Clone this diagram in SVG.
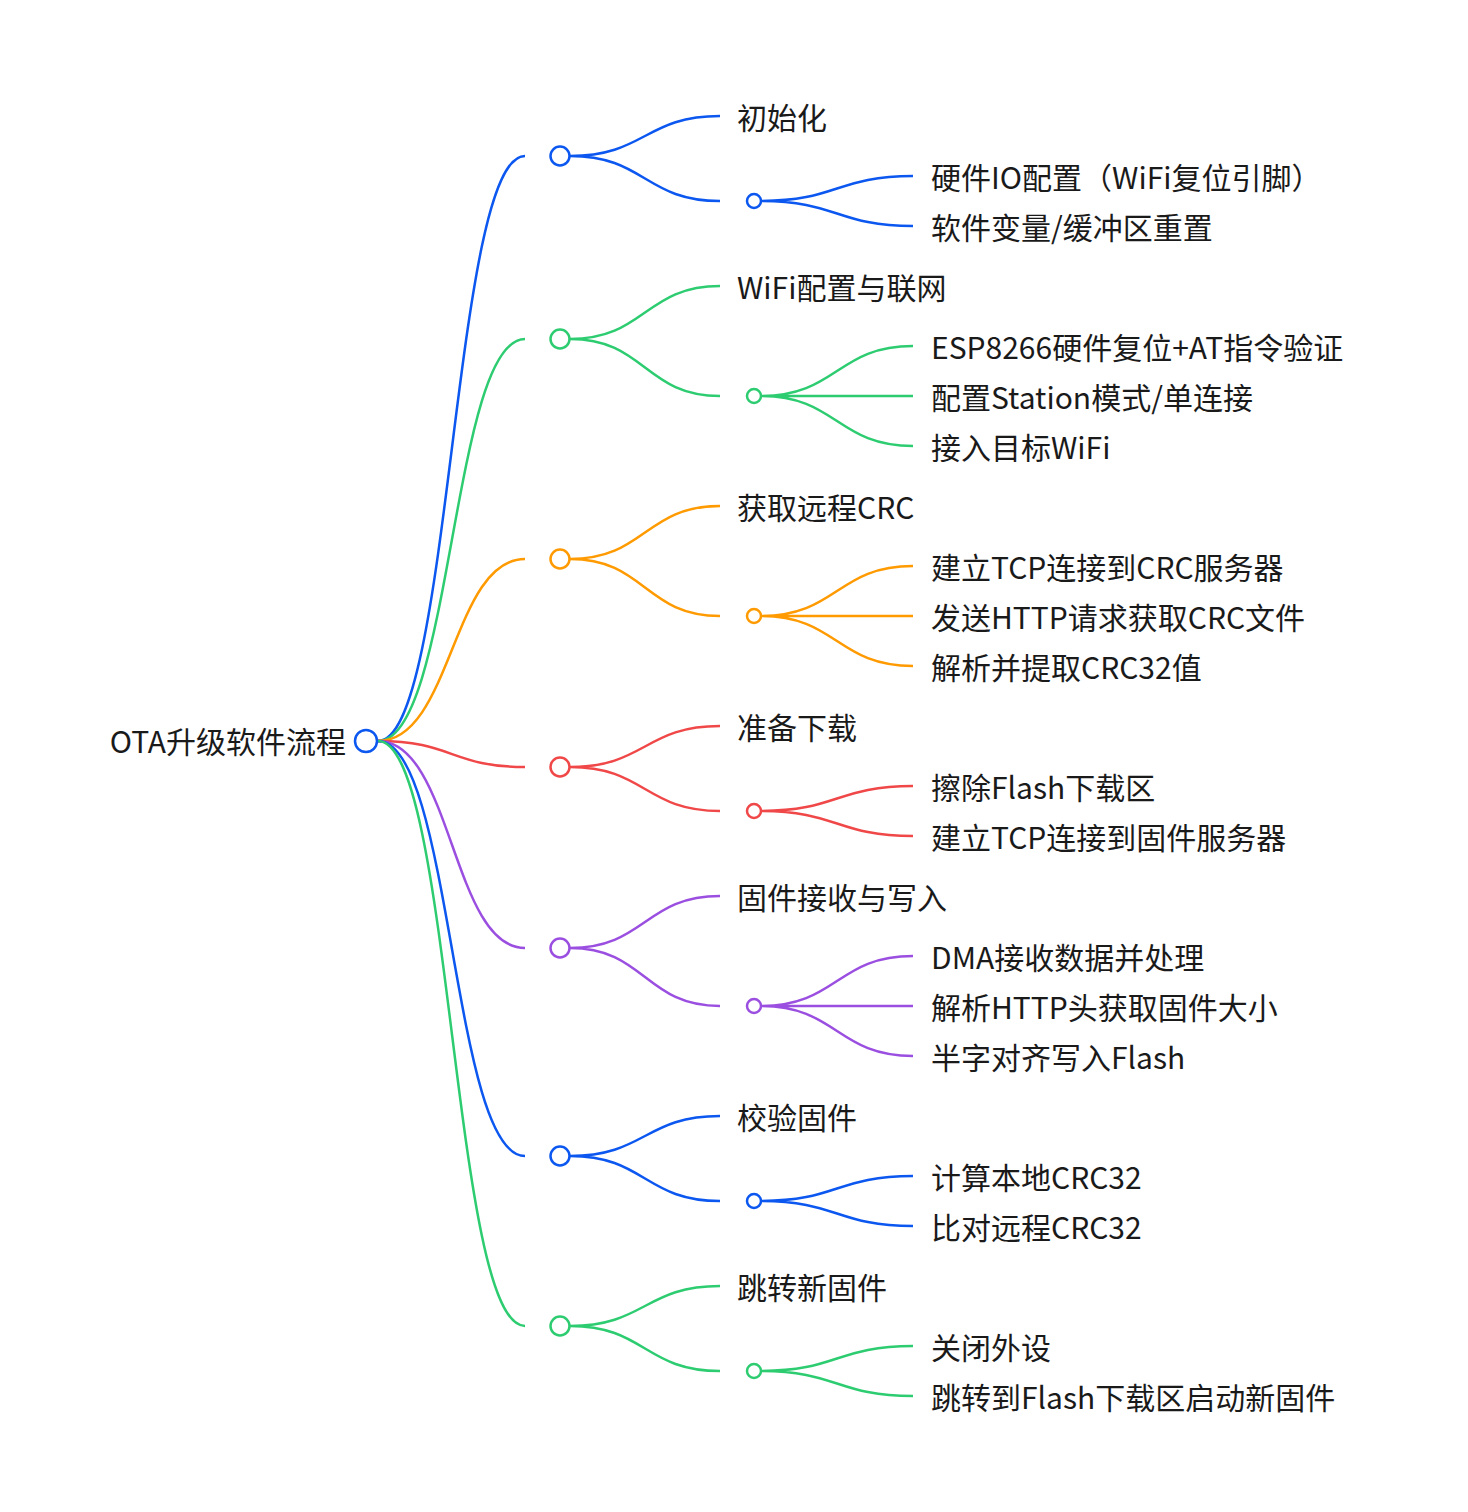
<svg xmlns="http://www.w3.org/2000/svg" width="1468" height="1512" viewBox="0 0 1468 1512">
<style>
text{font-family:"Noto Sans CJK SC","Noto Sans",sans-serif;font-size:30px;fill:#1a1a1a}
path{fill:none;stroke-width:2.5}
circle{fill:#fff;stroke-width:2.5}
.b{stroke:#0b57f0}.g{stroke:#2ecc71}.o{stroke:#ff9a00}.r{stroke:#f04848}.p{stroke:#9b4fe0}
</style>
<rect width="1468" height="1512" fill="#fff"/>
<g id="connectors">
<path class="b" d="M378 741C452 741 452 156 525 156"/>
<path class="g" d="M378 741C452 741 452 339 525 339"/>
<path class="o" d="M378 741C452 741 452 559 525 559"/>
<path class="r" d="M378 741C452 741 452 767 525 767"/>
<path class="p" d="M378 741C452 741 452 948 525 948"/>
<path class="b" d="M378 741C452 741 452 1156 525 1156"/>
<path class="g" d="M378 741C452 741 452 1326 525 1326"/>
<path class="b" d="M570 156C645 156 645 116 720 116M570 156C645 156 645 201 720 201M761 201C837 201 837 176 913 176M761 201C837 201 837 226 913 226"/>
<path class="g" d="M570 339C645 339 645 286 720 286M570 339C645 339 645 396 720 396M761 396C837 396 837 346 913 346M761 396L913 396M761 396C837 396 837 446 913 446"/>
<path class="o" d="M570 559C645 559 645 506 720 506M570 559C645 559 645 616 720 616M761 616C837 616 837 566 913 566M761 616L913 616M761 616C837 616 837 666 913 666"/>
<path class="r" d="M570 767C645 767 645 726 720 726M570 767C645 767 645 811 720 811M761 811C837 811 837 786 913 786M761 811C837 811 837 836 913 836"/>
<path class="p" d="M570 948C645 948 645 896 720 896M570 948C645 948 645 1006 720 1006M761 1006C837 1006 837 956 913 956M761 1006L913 1006M761 1006C837 1006 837 1056 913 1056"/>
<path class="b" d="M570 1156C645 1156 645 1116 720 1116M570 1156C645 1156 645 1201 720 1201M761 1201C837 1201 837 1176 913 1176M761 1201C837 1201 837 1226 913 1226"/>
<path class="g" d="M570 1326C645 1326 645 1286 720 1286M570 1326C645 1326 645 1371 720 1371M761 1371C837 1371 837 1346 913 1346M761 1371C837 1371 837 1396 913 1396"/>
</g>
<g id="root"><circle class="b" cx="366" cy="741" r="11"/><text x="346" y="753" text-anchor="end">OTA升级软件流程</text></g>
<g id="n1"><circle class="b" cx="560" cy="156" r="9.5"/><text x="737" y="129">初始化</text><circle class="b" cx="754" cy="201" r="7"/><text x="931" y="189">硬件IO配置（WiFi复位引脚）</text><text x="931" y="239">软件变量/缓冲区重置</text></g>
<g id="n2"><circle class="g" cx="560" cy="339" r="9.5"/><text x="737" y="299">WiFi配置与联网</text><circle class="g" cx="754" cy="396" r="7"/><text x="931" y="359">ESP8266硬件复位+AT指令验证</text><text x="931" y="409">配置Station模式/单连接</text><text x="931" y="459">接入目标WiFi</text></g>
<g id="n3"><circle class="o" cx="560" cy="559" r="9.5"/><text x="737" y="519">获取远程CRC</text><circle class="o" cx="754" cy="616" r="7"/><text x="931" y="579">建立TCP连接到CRC服务器</text><text x="931" y="629">发送HTTP请求获取CRC文件</text><text x="931" y="679">解析并提取CRC32值</text></g>
<g id="n4"><circle class="r" cx="560" cy="767" r="9.5"/><text x="737" y="739">准备下载</text><circle class="r" cx="754" cy="811" r="7"/><text x="931" y="799">擦除Flash下载区</text><text x="931" y="849">建立TCP连接到固件服务器</text></g>
<g id="n5"><circle class="p" cx="560" cy="948" r="9.5"/><text x="737" y="909">固件接收与写入</text><circle class="p" cx="754" cy="1006" r="7"/><text x="931" y="969">DMA接收数据并处理</text><text x="931" y="1019">解析HTTP头获取固件大小</text><text x="931" y="1069">半字对齐写入Flash</text></g>
<g id="n6"><circle class="b" cx="560" cy="1156" r="9.5"/><text x="737" y="1129">校验固件</text><circle class="b" cx="754" cy="1201" r="7"/><text x="931" y="1189">计算本地CRC32</text><text x="931" y="1239">比对远程CRC32</text></g>
<g id="n7"><circle class="g" cx="560" cy="1326" r="9.5"/><text x="737" y="1299">跳转新固件</text><circle class="g" cx="754" cy="1371" r="7"/><text x="931" y="1359">关闭外设</text><text x="931" y="1409">跳转到Flash下载区启动新固件</text></g>
</svg>
